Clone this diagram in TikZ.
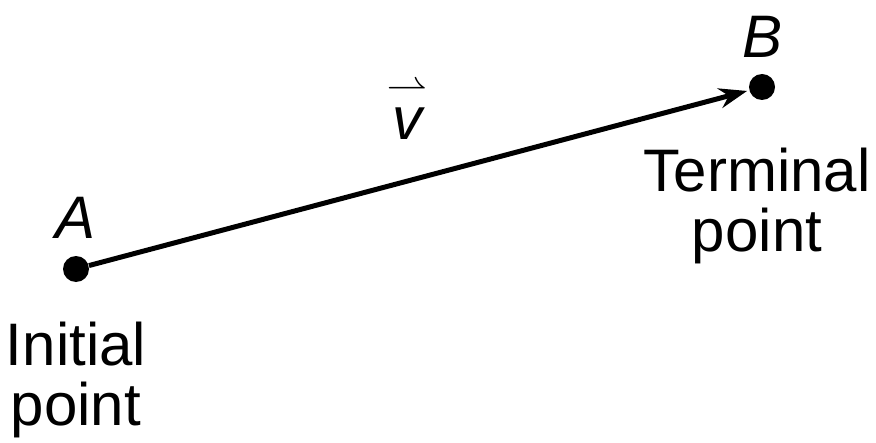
\documentclass[tikz,border=0pt]{standalone}
\usepackage{fontspec}
\setmainfont{Liberation Sans}
\usepackage{amsmath}
\usepackage{tikz}
\usetikzlibrary{arrows.meta}

\begin{document}
\begin{tikzpicture}[x=0.5pt, y=-0.5pt, font=\fontsize{30}{30}\selectfont,
	dot/.style={circle, fill=black, inner sep=0pt, minimum size=13pt},
	lbl/.style={inner sep=0pt, align=center}]
				            \useasboundingbox (0,0) rectangle (876,443);

				            \node[dot] (A) at (76,269) {};
				            \node[dot] (B) at (762,87) {};

				            \draw[line width=2.5pt, -{Stealth[length=14pt, width=10pt]}, shorten >=1pt]
				            (A) -- (B);

				            \node[lbl, anchor=base] (labA) at (76,238) {\itshape A};
				            \node[lbl, anchor=base] (labB) at (762,58) {\itshape B};
				            \node[lbl, anchor=base] (labv) at (407,140) {$\overset{\rightharpoonup}{\mathit{v}}$};

				            \node[lbl, anchor=north] (init) at (76,322) {Initial\\point};
				            \node[lbl, anchor=north] (term) at (757,148) {Terminal\\point};
			            \end{tikzpicture}
\end{document}
